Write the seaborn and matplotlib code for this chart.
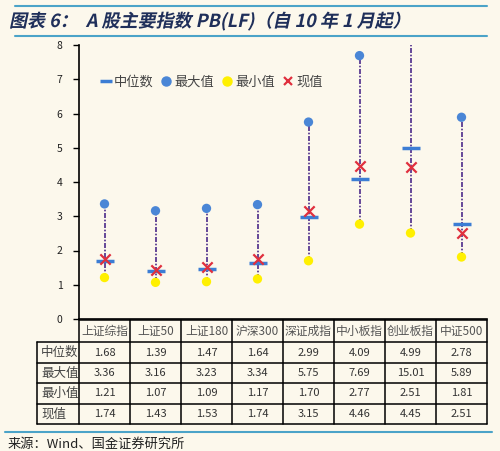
import matplotlib
matplotlib.use("Agg")
import matplotlib.pyplot as plt
import seaborn as sns
import pandas as pd
import numpy as np
from matplotlib.lines import Line2D
from matplotlib.textpath import TextPath
from matplotlib.patches import PathPatch
from matplotlib.font_manager import FontProperties
from matplotlib.transforms import Affine2D

categories = ["上证综指", "上证50", "上证180", "沪深300", "深证成指", "中小板指", "创业板指", "中证500"]
median_vals = [1.68, 1.39, 1.47, 1.64, 2.99, 4.09, 4.99, 2.78]
max_vals = [3.36, 3.16, 3.23, 3.34, 5.75, 7.69, 15.01, 5.89]
min_vals = [1.21, 1.07, 1.09, 1.17, 1.70, 2.77, 2.51, 1.81]
cur_vals = [1.74, 1.43, 1.53, 1.74, 3.15, 4.46, 4.45, 2.51]
row_labels = ["中位数", "最大值", "最小值", "现值"]
yticks = [0, 1, 2, 3, 4, 5, 6, 7, 8]

sns.set_style("white")
plt.rcParams['font.family'] = ['Noto Sans CJK SC', 'DejaVu Sans']

BG = "#FCF8EC"
W, H = 500, 451
fig = plt.figure(figsize=(W / 100, H / 100), dpi=100, facecolor=BG)

df = pd.DataFrame({"cat": categories, "x": np.arange(len(categories)),
                   "median": median_vals, "max": max_vals, "min": min_vals, "cur": cur_vals})

ax = fig.add_axes([79 / W, (H - 319) / H, 408 / W, 274 / H])
ax.set_facecolor(BG)
ax.vlines(df["x"], df["min"], df["max"], colors="#4B2A8A", linestyles=(0, (3, 1, 1, 1)), lw=1.2, zorder=1)
sns.scatterplot(data=df, x="x", y="max", ax=ax, color="#4A86D6", s=45, edgecolor="none", zorder=3, legend=False)
sns.scatterplot(data=df, x="x", y="min", ax=ax, color="#FFF000", s=45, edgecolor="none", zorder=3, legend=False)
sns.scatterplot(data=df, x="x", y="median", ax=ax, marker="_", color="#3C7DD4", s=170, linewidth=2.5, zorder=4, legend=False)
sns.scatterplot(data=df, x="x", y="cur", ax=ax, marker="x", color="#E0303E", s=55, linewidth=1.6, zorder=5, legend=False)

ax.set_xlim(-0.5, len(categories) - 0.5)
ax.set_ylim(0, 8)
ax.set_yticks(yticks)
ax.set_yticklabels([str(v) for v in yticks], fontsize=7.5, color="#222222")
ax.set_xticks([])
ax.set_xlabel("")
ax.set_ylabel("")
for s in ["top", "right"]:
    ax.spines[s].set_visible(False)
for s in ["left", "bottom"]:
    ax.spines[s].set_color("black")
    ax.spines[s].set_linewidth(1.2)
ax.tick_params(axis="y", direction="out", length=4, width=1, color="black", left=True, pad=8)

handles = [
    Line2D([], [], marker="_", color="#3C7DD4", ls="none", markersize=8, markeredgewidth=2.5),
    Line2D([], [], marker="o", color="#4A86D6", ls="none", markersize=6.5),
    Line2D([], [], marker="o", color="#FFF000", ls="none", markersize=6.5),
    Line2D([], [], marker="x", color="#E0303E", ls="none", markersize=6, markeredgewidth=1.6),
]
ax.legend(handles, ["中位数", "最大值", "最小值", "现值"], ncol=4, frameon=False,
          loc="upper left", bbox_to_anchor=(0.02, 0.93), fontsize=9.5, handletextpad=0.1,
          columnspacing=0.5, handlelength=1.0, labelcolor="#444444")

# table drawn in pixel coordinates on an overlay axes
tax = fig.add_axes([0, 0, 1, 1], facecolor="none")
tax.set_xlim(0, W)
tax.set_ylim(H, 0)
tax.axis("off")
x0, x1, cw = 37, 79, 51
xs = [x1 + cw * k for k in range(len(categories) + 1)]
ys = [320, 342, 363, 383, 404, 424]
lk = dict(color="black", lw=1.1)
tax.plot([x1, xs[-1]], [ys[0], ys[0]], **lk)
for x in xs:
    tax.plot([x, x], [ys[0], ys[-1]], **lk)
tax.plot([x0, x0], [ys[1], ys[-1]], **lk)
for y in ys[1:]:
    tax.plot([x0, xs[-1]], [y, y], **lk)
for k, c in enumerate(categories):
    tax.text((xs[k] + xs[k + 1]) / 2, (ys[0] + ys[1]) / 2, c, ha="center", va="center",
             fontsize=8.5, color="#555555")
vals = [median_vals, max_vals, min_vals, cur_vals]
for r, (lab, row) in enumerate(zip(row_labels, vals)):
    yc = (ys[r + 1] + ys[r + 2]) / 2
    tax.text(x0 + 4, yc, lab, ha="left", va="center", fontsize=9, color="#444444")
    for k, v in enumerate(row):
        tax.text((xs[k] + xs[k + 1]) / 2, yc, f"{v:.2f}", ha="center", va="center",
                 fontsize=8, color="#333333")

# title (synthetic italic) & footer
fig.add_artist(Line2D([15 / W, 487 / W], [1 - 6 / H, 1 - 6 / H], color="#4BA3C8", lw=1.5))
fig.add_artist(Line2D([15 / W, 487 / W], [1 - 36 / H, 1 - 36 / H], color="#4BA3C8", lw=1.5))
fp = FontProperties(family="Noto Sans CJK SC", weight="bold")
tp = TextPath((0, 0), "图表 6：  A 股主要指数 PB(LF)（自 10 年 1 月起）", size=18, prop=fp)
tr = Affine2D().skew_deg(12, 0).scale(1, -1).translate(9, 27)
patch = PathPatch(tr.transform_path(tp), facecolor="#1F2F5A", edgecolor="none")
tax.add_patch(patch)
fig.add_artist(Line2D([5 / W, 492 / W], [1 - 432 / H, 1 - 432 / H], color="#4BA3C8", lw=1.5))
fig.text(8 / W, 1 - 444 / H, "来源：Wind、国金证券研究所", fontsize=9.5, color="#222222", va="center", ha="left")

fig.savefig("out.png", dpi=100, facecolor=BG)
